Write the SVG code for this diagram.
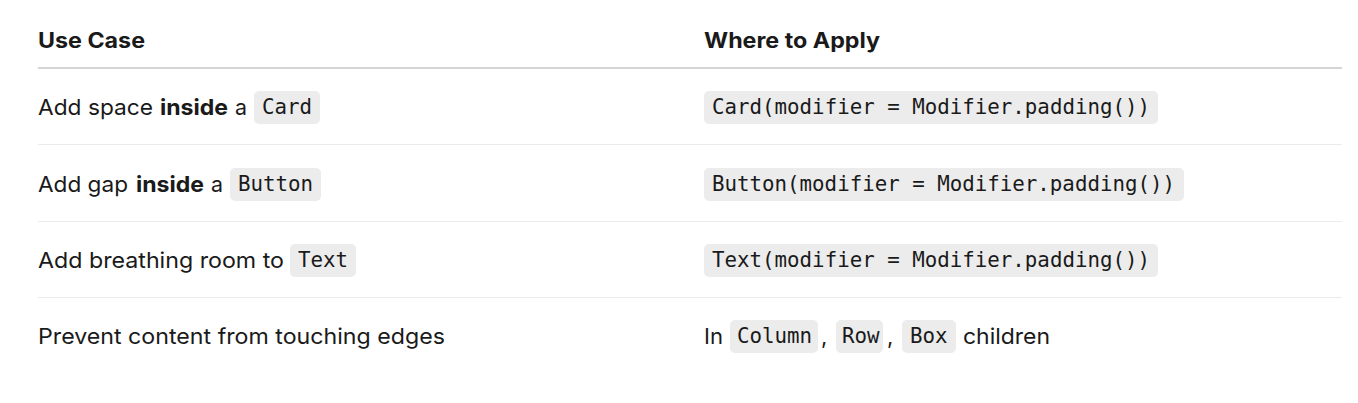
<svg xmlns="http://www.w3.org/2000/svg" width="1358" height="403" viewBox="0 0 1358 403">
<style>
.t{font-family:Inter,"Liberation Sans","Noto Sans",sans-serif;font-size:22px;fill:#1a1a1a}
.h{font-weight:bold;font-size:21px}
.b{font-weight:bold}
.c{font-family:"DejaVu Sans Mono","Liberation Mono",monospace;font-size:20.8px;fill:#1a1a1a}
.p{fill:#ececec}
.l{stroke:#ebebeb;stroke-width:1}
</style>
<rect width="1358" height="403" fill="#fff"/>
<g id="lines">
<line x1="38" y1="68" x2="1342" y2="68" stroke="#d4d4d4" stroke-width="2"/>
<line class="l" x1="38" y1="144.5" x2="1342" y2="144.5"/>
<line class="l" x1="38" y1="221.5" x2="1342" y2="221.5"/>
<line class="l" x1="38" y1="297.5" x2="1342" y2="297.5"/>
</g>
<g id="header">
<text class="t h" x="38" y="48" textLength="107" lengthAdjust="spacingAndGlyphs">Use Case</text>
<text class="t h" x="704" y="48" textLength="176" lengthAdjust="spacingAndGlyphs">Where to Apply</text>
</g>
<g id="row1">
<text class="t" x="38" y="115" textLength="115" lengthAdjust="spacingAndGlyphs">Add space</text>
<text class="t b" x="160" y="115" textLength="68" lengthAdjust="spacingAndGlyphs">inside</text>
<text class="t" x="235" y="115" textLength="12" lengthAdjust="spacingAndGlyphs">a</text>
<rect class="p" x="254" y="91" width="66" height="33" rx="5"/>
<text class="c" x="262" y="114">Card</text>
<rect class="p" x="704" y="91" width="454" height="33" rx="5"/>
<text class="c" x="712" y="114" textLength="438" lengthAdjust="spacingAndGlyphs">Card(modifier = Modifier.padding())</text>
</g>
<g id="row2">
<text class="t" x="38" y="192" textLength="90" lengthAdjust="spacingAndGlyphs">Add gap</text>
<text class="t b" x="136" y="192" textLength="68" lengthAdjust="spacingAndGlyphs">inside</text>
<text class="t" x="211" y="192" textLength="12" lengthAdjust="spacingAndGlyphs">a</text>
<rect class="p" x="230" y="168" width="91" height="33" rx="5"/>
<text class="c" x="238" y="191">Button</text>
<rect class="p" x="704" y="168" width="480" height="33" rx="5"/>
<text class="c" x="712" y="191" textLength="463" lengthAdjust="spacingAndGlyphs">Button(modifier = Modifier.padding())</text>
</g>
<g id="row3">
<text class="t" x="38" y="268" textLength="246" lengthAdjust="spacingAndGlyphs">Add breathing room to</text>
<rect class="p" x="290" y="244" width="66" height="33" rx="5"/>
<text class="c" x="298" y="267">Text</text>
<rect class="p" x="704" y="244" width="454" height="33" rx="5"/>
<text class="c" x="712" y="267" textLength="438" lengthAdjust="spacingAndGlyphs">Text(modifier = Modifier.padding())</text>
</g>
<g id="row4">
<text class="t" x="38" y="344" textLength="407" lengthAdjust="spacingAndGlyphs">Prevent content from touching edges</text>
<text class="t" x="704" y="344" textLength="19" lengthAdjust="spacingAndGlyphs">In</text>
<rect class="p" x="730" y="320" width="88" height="33" rx="5"/>
<text class="c" x="737" y="343">Column</text>
<text class="t" x="821" y="344">,</text>
<rect class="p" x="836" y="320" width="47" height="33" rx="5"/>
<text class="c" x="842" y="343">Row</text>
<text class="t" x="887" y="344">,</text>
<rect class="p" x="902" y="320" width="54" height="33" rx="5"/>
<text class="c" x="910" y="343">Box</text>
<text class="t" x="963" y="344" textLength="87" lengthAdjust="spacingAndGlyphs">children</text>
</g>
</svg>
